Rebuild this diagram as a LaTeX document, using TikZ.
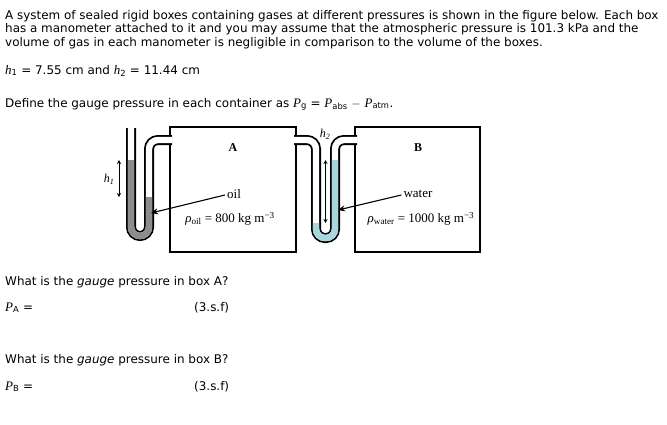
\documentclass[tikz,border=0pt]{standalone}
\usepackage{fontspec}
\setmainfont{DejaVu Sans}
\newfontfamily\serif{Liberation Serif}
\usetikzlibrary{arrows.meta}
\definecolor{oilgray}{RGB}{140,140,140}
\definecolor{waterblue}{RGB}{168,214,222}
\tikzset{
  txt/.style={anchor=base west,inner sep=0pt,font=\fontsize{11.95}{13}\selectfont},
  fig/.style={inner sep=0pt,font=\serif\fontsize{13}{14}\selectfont},
  box/.style={draw=black,line width=1.4pt},
  tubeo/.style={draw=black,line width=10pt,rounded corners=9pt},
  tubei/.style={draw=white,line width=6.4pt,rounded corners=9pt},
  oilc/.style={draw=oilgray,line width=6.4pt,rounded corners=9pt},
  watc/.style={draw=waterblue,line width=6.4pt,rounded corners=9pt},
  ptr/.style={-{Stealth[length=7pt,width=6pt]},line width=1.1pt},
  dim/.style={{Stealth[length=4pt,width=4pt]}-{Stealth[length=4pt,width=4pt]},line width=0.8pt},
}
\newcommand{\vv}[1]{{\serif\itshape\fontsize{13}{13}\selectfont #1}}
\begin{document}
\begin{tikzpicture}[x=1pt,y=-1pt]
\useasboundingbox[fill=white] (0,0) rectangle (667,424);
% texts
\node[txt] (t1) at (5,19) {A system of sealed rigid boxes containing gases at different pressures is shown in the figure below. Each box};
\node[txt] (t2) at (5,32) {has a manometer attached to it and you may assume that the atmospheric pressure is 101.3 kPa and the};
\node[txt] (t3) at (5,46) {volume of gas in each manometer is negligible in comparison to the volume of the boxes.};
\node[txt] (t4) at (5,74) {\vv{h}\textsubscript{1} = 7.55 cm and \vv{h}\textsubscript{2} = 11.44 cm};
\node[txt] (t5) at (5,107) {Define the gauge pressure in each container as \vv{P}\textsubscript{g} = \vv{P}\textsubscript{abs} $-$ \vv{P}\textsubscript{atm}.};
\node[txt] (q1) at (5,285) {What is the \textit{gauge} pressure in box A?};
\node[txt] (pa) at (5,311) {\vv{P}\textsubscript{A} =};
\node[txt] (sa) at (194,311) {(3.s.f)};
\node[txt] (q2) at (5,363) {What is the \textit{gauge} pressure in box B?};
\node[txt] (pb) at (5,390) {\vv{P}\textsubscript{B} =};
\node[txt] (sb) at (194,390) {(3.s.f)};
% boxes
\draw[box] (170,252) -- (170,127) -- (296,127) -- (296,252) -- cycle;
\draw[box] (355,252) -- (355,127) -- (480,127) -- (480,252) -- cycle;
% manometer A
\draw[tubeo] (131,128) -- (131,236) -- (149,236) -- (149,140) -- (172,140);
\draw[tubei] (131,126) -- (131,236) -- (149,236) -- (149,140) -- (172.5,140);
\draw[oilc] (131,160) -- (131,236) -- (149,236) -- (149,197);
% manometer B
\draw[tubeo] (294,140) -- (316,140) -- (316,238) -- (335,238) -- (335,140) -- (357,140);
\draw[tubei] (293.5,140) -- (316,140) -- (316,238) -- (335,238) -- (335,140) -- (357.5,140);
\draw[watc] (316,223) -- (316,238) -- (335,238) -- (335,160);
% dimension arrows
\coordinate (h1a) at (119,160); \coordinate (h1b) at (119,197);
\draw[dim] (h1a) -- (h1b);
\node[fig,font=\serif\itshape\fontsize{12}{12}\selectfont] (h1) at (109,179) {h\textsubscript{1}};
\coordinate (h2a) at (325.5,160); \coordinate (h2b) at (325.5,223);
\draw[dim] (h2a) -- (h2b);
\node[fig,font=\serif\itshape\fontsize{12}{12}\selectfont] (h2) at (325,134) {h\textsubscript{2}};
% labels
\node[fig,font=\serif\bfseries\fontsize{12}{12}\selectfont] (A) at (233,148) {A};
\node[fig,font=\serif\bfseries\fontsize{12}{12}\selectfont] (B) at (418,148) {B};
\node[fig] (oil) at (234,194) {oil};
\node[fig] (water) at (418,194) {water};
\coordinate (oilpt) at (151,213);
\coordinate (watpt) at (338,210);
\draw[ptr] (oil.west) ++(-2,1) -- (oilpt);
\draw[ptr] (water.west) ++(-2,1) -- (watpt);
\node[fig] (roa) at (230,219) {{\itshape ρ}\textsubscript{oil} = 800 kg m\textsuperscript{−3}};
\node[fig] (rob) at (421,219) {{\itshape ρ}\textsubscript{water} = 1000 kg m\textsuperscript{−3}};
\end{tikzpicture}
\end{document}
